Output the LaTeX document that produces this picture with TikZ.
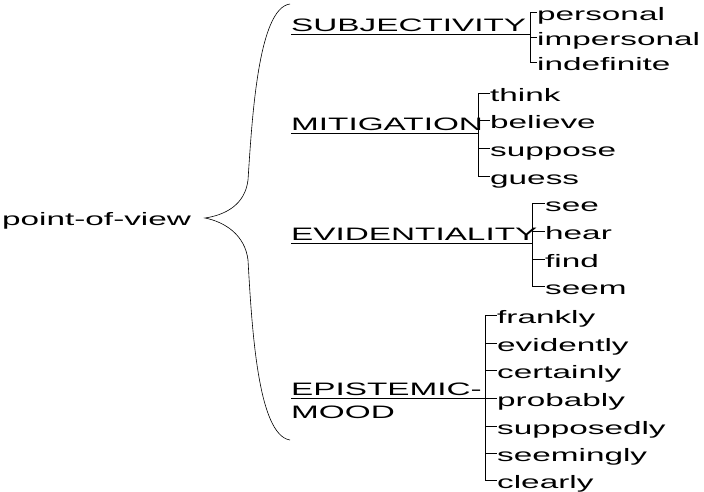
\documentclass[tikz,border=0pt]{standalone}
\usepackage{fontspec}
\setmainfont{Liberation Sans}[FakeStretch=1.85]
\begin{document}
\begin{tikzpicture}[x=1pt,y=-1pt,
  lbl/.style={anchor=base west,inner sep=0pt,font=\fontsize{18}{20}\selectfont},
  ln/.style={line width=0.6pt}]
\useasboundingbox (0,0) rectangle (704,491);
\node[lbl] (pov) at (2,225) {point-of-view};
\draw[ln] (290,4) .. controls (258,8) and (252,120) .. (248,180)
  .. controls (245,205) and (225,215) .. (205,218)
  .. controls (225,222) and (245,235) .. (248,260)
  .. controls (252,330) and (258,435) .. (290,440);
% group macro
\newcommand\grp[4]{% cat node name, bracket x, item x, list name/text/baseline
  \foreach \n/\t/\b [count=\k] in {#4}{
    \node[lbl] (\n) at (#3,\b) {\t};
    \coordinate (t\k) at (#2,\b-8);
    \draw[ln] (t\k) -- ([yshift=8pt]\n.base west);
  }
}
% SUBJECTIVITY
\node[lbl] (subj) at (291,31) {SUBJECTIVITY};
\draw[ln] (subj.base west) ++(0,3) coordinate (su) -- (530,34) coordinate (sb);
\grp{subj}{530}{537}{pers/personal/20, imp/impersonal/45, ind/indefinite/70}
\draw[ln] (530,12) -- (530,62);
% MITIGATION
\node[lbl] (miti) at (291,130) {MITIGATION};
\draw[ln] (miti.base west) ++(0,3) -- (478,133);
\grp{miti}{478}{490}{thi/think/101, bel/believe/128, sup/suppose/156, gue/guess/184}
\draw[ln] (478,93) -- (478,176);
% EVIDENTIALITY
\node[lbl] (evid) at (291,240) {EVIDENTIALITY};
\draw[ln] (evid.base west) ++(0,3) -- (532,243);
\grp{evid}{532}{545}{see/see/211, hea/hear/239, fin/find/267, sem/seem/294}
\draw[ln] (532,203) -- (532,286);
% EPISTEMIC-MOOD
\node[lbl] (epis) at (291,395) {EPISTEMIC-};
\node[lbl] (mood) at (291,418) {MOOD};
\draw[ln] (epis.base west) ++(0,3) -- (485,398);
\grp{epis}{485}{497}{fra/frankly/323, evi/evidently/351, cer/certainly/378, pro/probably/406, sps/supposedly/434, smg/seemingly/461, cle/clearly/488}
\draw[ln] (485,315) -- (485,480);
\end{tikzpicture}
\end{document}
